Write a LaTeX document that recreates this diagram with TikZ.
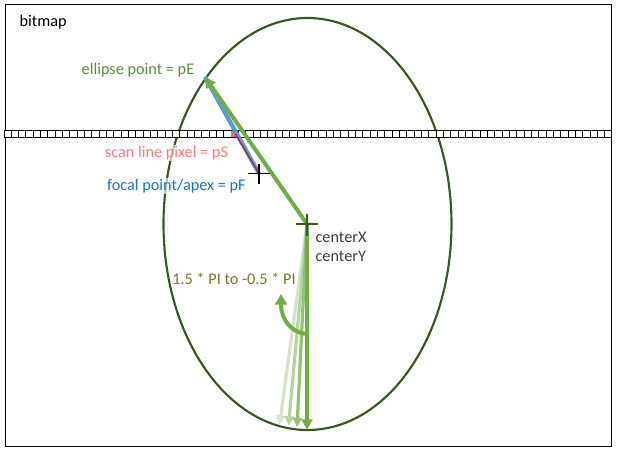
\documentclass[tikz,border=0pt]{standalone}
\usepackage{fontspec}
\setmainfont{Carlito}
\usetikzlibrary{arrows.meta,calc}
\definecolor{ellgreen}{RGB}{56,87,35}
\definecolor{arrgreen}{RGB}{112,173,71}
\definecolor{fan1}{RGB}{145,195,115}
\definecolor{fan2}{RGB}{180,212,160}
\definecolor{fan3}{RGB}{212,228,200}
\definecolor{lblue}{RGB}{91,155,213}
\definecolor{txtblue}{RGB}{20,120,205}
\definecolor{txtpink}{RGB}{250,125,130}
\definecolor{txtgreen}{RGB}{95,140,55}
\definecolor{txtolive}{RGB}{125,120,40}
\definecolor{txtdark}{RGB}{55,65,55}
\definecolor{cellred}{RGB}{232,110,112}
\definecolor{darkred}{RGB}{190,20,30}
\tikzset{
  lbl/.style={font=\fontsize{12.2}{14.5}\selectfont, inner sep=1pt},
  cell/.style={draw=black, line width=0.75pt, fill=white},
  greenarrow/.style={draw=arrgreen, line width=3pt, -{Triangle[length=8pt,width=8pt]}},
  fanarrow/.style={line width=2.4pt, -{Triangle[length=7pt,width=7pt]}},
  crossline/.style={line width=1.3pt},
}
\begin{document}
\begin{tikzpicture}[x=0.75pt,y=-0.75pt]
\useasboundingbox (0,0) rectangle (617,451);
% frame
\node[draw=black, line width=0.9pt, minimum width=606*0.75pt, minimum height=442*0.75pt, anchor=north west, inner sep=0pt] (frame) at (5,4) {};
% ellipse
\draw[ellgreen, line width=1.6pt] (307.5,224) ellipse [x radius=144, y radius=206];
% scan line
\foreach \i in {0,...,82}{
  \draw[cell] ({4+\i*7.325},130.5) rectangle ({4+(\i+1)*7.325},137.5);
}
\fill[cellred] ({4+31*7.325+0.4},131) rectangle ({4+32*7.325-0.4},137);
% key points
\coordinate (pE) at (205,77);
\coordinate (pS) at (235.5,134);
\coordinate (pF) at (259,173.5);
\coordinate (C) at (307,224);
\coordinate (tip0) at (307,430);
\coordinate (tip1) at (297,427);
\coordinate (tip2) at (288.5,425.5);
\coordinate (tip3) at (279.5,424.5);
% labels with soft backgrounds
\node[lbl, text=txtpink, fill=white, fill opacity=0.65, text opacity=1] (lpS) at (166.5,153) {scan line pixel = pS};
\node[lbl, text=txtblue, fill=white, fill opacity=0.65, text opacity=1] (lpF) at (176.5,186) {focal point/apex = pF};
% blue and red lines
\draw[lblue, line width=3.2pt, line cap=butt] (pF) -- (pE);
\draw[darkred, line width=0.8pt] (pF) -- (pS);
% fan arrows
\draw[fanarrow, draw=fan3, fill=fan3] (C) -- (tip3);
\draw[fanarrow, draw=fan2, fill=fan2] (C) -- (tip2);
\draw[fanarrow, draw=fan1, fill=fan1] (C) -- (tip1);
\draw[greenarrow] (C) -- (tip0);
% main arrow to ellipse point
\draw[greenarrow] (C) -- (pE);
% rotation arrow
\coordinate (rotA) at (306.5,334);
\coordinate (rotB) at (281,294);
\draw[draw=arrgreen, line width=3pt, -{Triangle[length=8pt,width=9pt]}] (rotA) .. controls (292,333) and (281,320) .. (rotB);
% crosses
\draw[crossline, black] ($(pF)+(-11,0)$) -- ($(pF)+(11,0)$);
\draw[crossline, black] ($(pF)+(0,-10)$) -- ($(pF)+(0,10)$);
\draw[crossline, ellgreen] ($(C)+(-11,0)$) -- ($(C)+(11,0)$);
\draw[crossline, ellgreen] ($(C)+(0,-10)$) -- ($(C)+(0,12)$);
% texts
\node[lbl, anchor=west] (bitmap) at (18,22) {bitmap};
\node[lbl, text=txtgreen] (lpE) at (138,70) {ellipse point = pE};
\node[lbl, text=txtdark, anchor=west, align=left] (lC) at (314,246.5) {centerX\\centerY};
\node[lbl, text=txtolive] (lang) at (234,279) {1.5 * PI to -0.5 * PI};
\end{tikzpicture}
\end{document}
